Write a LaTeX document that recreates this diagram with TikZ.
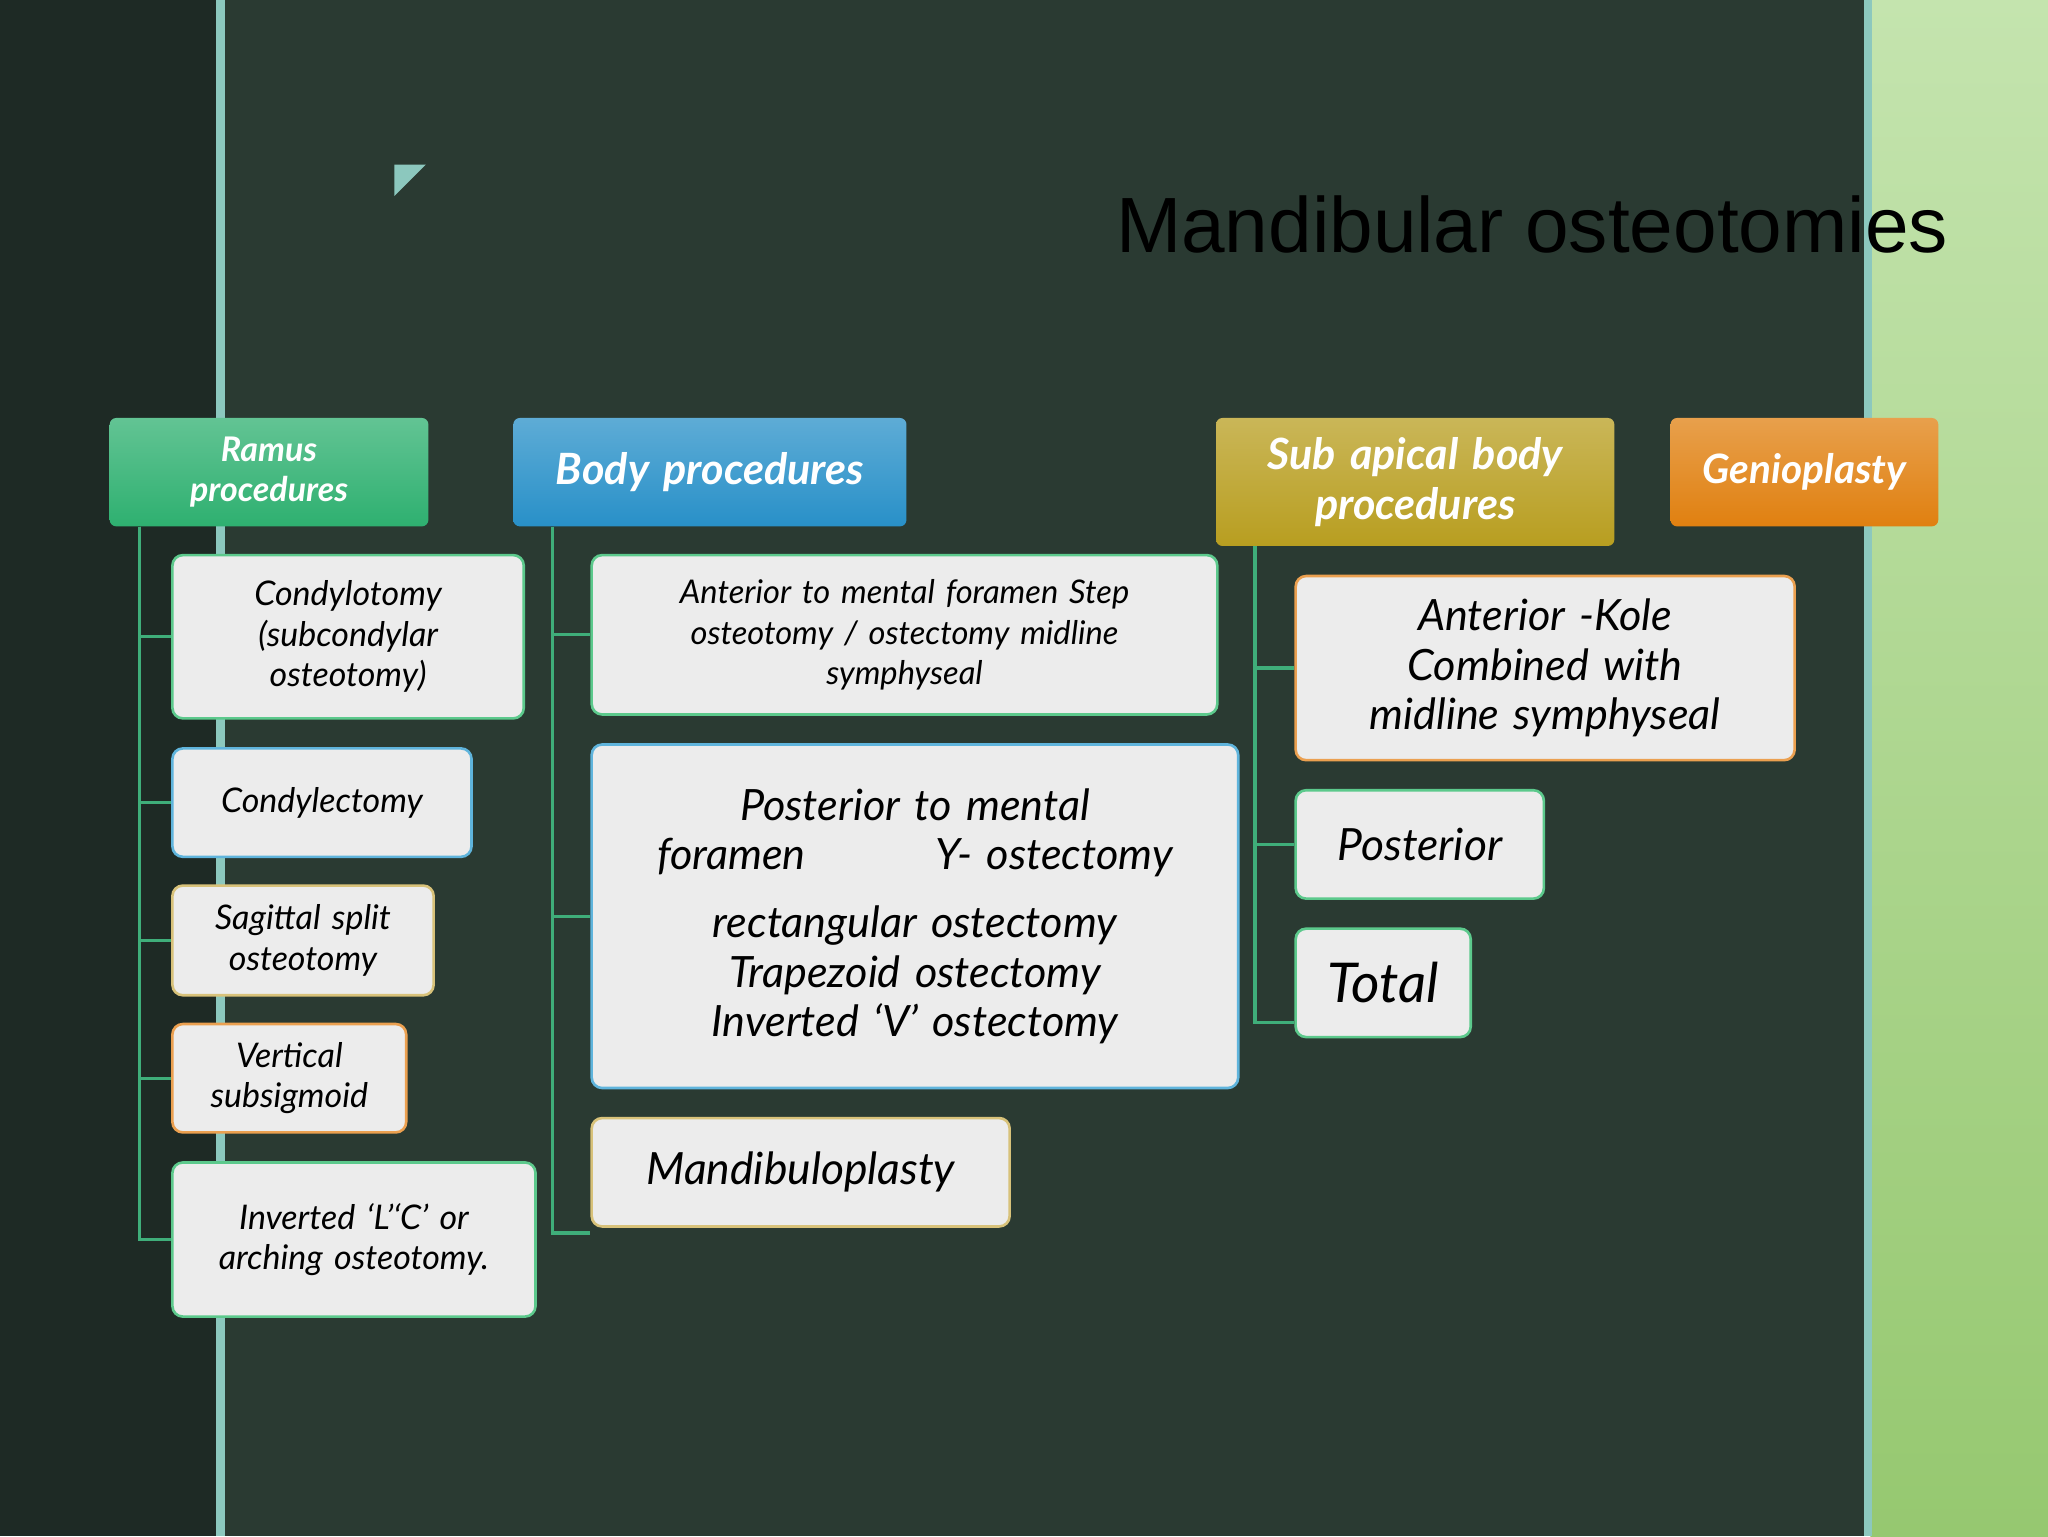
\documentclass[tikz,border=0pt]{standalone}
\usepackage{fontspec}
\setmainfont{Lato}
\newfontfamily\titlefont{Liberation Sans}
\usetikzlibrary{calc}
\definecolor{bgmain}{HTML}{2A3A32}
\definecolor{bgleft}{HTML}{1E2A25}
\definecolor{strip}{HTML}{8CC8BE}
\definecolor{conn}{HTML}{3FAE7A}
\definecolor{boxfill}{HTML}{ECECEC}
\definecolor{bGreen}{HTML}{5CC98C}
\definecolor{bBlue}{HTML}{5FB4DC}
\definecolor{bTan}{HTML}{D8C27A}
\definecolor{bOrange}{HTML}{EBA050}
\definecolor{rgA}{HTML}{C4E4AE}
\definecolor{rgB}{HTML}{96C870}
\tikzset{
  conline/.style={draw=conn,line width=2.5pt},
  hdr/.style={rounded corners=5pt,text=white,align=center,inner sep=0pt},
  lbox/.style={fill=boxfill,rounded corners=8pt,line width=2pt,align=center,inner sep=0pt}
}
\newcommand{\bx}[9]{%
  \node[lbox,draw=#6,minimum width={#4-#2},minimum height={#5-#3},text width={#4-#2-16},
    font={\itshape\fontsize{#8}{#9}\selectfont\spaceskip=0.42em plus 0.1em}] (#1) at ({(#2+#4)/2},{(#3+#5)/2}) {#7};}
\newcommand{\hd}[9]{%
  \node[hdr,top color=#6!75!white,bottom color=#6,minimum width={#4-#2},minimum height={#5-#3},text width={#4-#2-10},
    font={\bfseries\itshape\fontsize{#8}{#9}\selectfont}] (#1) at ({(#2+#4)/2},{(#3+#5)/2}) {#7};}
\begin{document}
\begin{tikzpicture}[x=1pt,y=-1pt]
\useasboundingbox (0,0) rectangle (1568,1176);
\fill[bgmain] (0,0) rectangle (1568,1176);
\fill[bgleft] (0,0) rectangle (165,1176);
\fill[strip] (165,0) rectangle (172,1176);
\shade[top color=rgA, bottom color=rgB] (1432,0) rectangle (1568,1176);
\fill[strip] (1427,0) rectangle (1433,1176);
\fill[strip] (302,126) -- (326,126) -- (302,150) -- cycle;
\node[anchor=base east,font=\titlefont\fontsize{60}{62}\selectfont] (title) at (1495,193) {Mandibular osteotomies};
% headers
\definecolor{hG}{HTML}{2EB070}\definecolor{hB}{HTML}{2890C8}
\definecolor{hY}{HTML}{B89E20}\definecolor{hO}{HTML}{E08010}
\hd{ramus}{84}{320}{328}{403}{hG}{Ramus\\procedures}{26}{31}
\hd{body}{393}{320}{694}{403}{hB}{Body procedures}{33}{38}
\hd{sub}{931}{320}{1236}{418}{hY}{Sub apical body\\procedures}{33}{38}
\hd{genio}{1279}{320}{1484}{403}{hO}{Genioplasty}{31}{36}
% ramus boxes
\bx{r1}{132}{425}{401}{550}{bGreen}{Condylotomy\\(subcondylar\\osteotomy)}{26}{31}
\bx{r2}{132}{573}{361}{656}{bBlue}{Condylectomy}{26}{31}
\bx{r3}{132}{678}{332}{762}{bTan}{Sagittal split\\osteotomy}{26}{31}
\bx{r4}{132}{784}{311}{867}{bOrange}{Vertical\\subsigmoid}{26}{31}
\bx{r5}{132}{890}{410}{1008}{bGreen}{Inverted `L'`C' or\\arching osteotomy.}{26}{31}
% body boxes
\bx{b1}{453}{425}{932}{547}{bGreen}{Anterior to mental foramen Step\\osteotomy / ostectomy midline\\symphyseal}{25}{31}
\bx{b2}{453}{570}{948}{833}{bBlue}{Posterior to mental\\foramen\quad\quad\quad Y- ostectomy\\[14pt]rectangular ostectomy\\Trapezoid ostectomy\\Inverted `V' ostectomy}{33}{38}
\bx{b3}{453}{856}{773}{939}{bTan}{Mandibuloplasty}{34}{40}
% sub apical boxes
\bx{s1}{992}{441}{1374}{582}{bOrange}{Anterior -Kole\\Combined with\\midline symphyseal}{33}{38}
\bx{s2}{992}{605}{1182}{688}{bGreen}{Posterior}{34}{40}
\bx{s3}{992}{711}{1126}{794}{bGreen}{Total}{42}{48}
% connectors
\foreach \n in {r1,r2,r3,r4,r5}{\draw[conline] ([xshift=23pt]ramus.south west) |- (\n.west);}
\foreach \n in {b1,b2}{\draw[conline] ([xshift=30pt]body.south west) |- (\n.west);}
\draw[conline] ([xshift=30pt]body.south west) |- ([yshift=-4pt]b3.south west);
\foreach \n in {s1,s2}{\draw[conline] ([xshift=30pt]sub.south west) |- (\n.west);}
\draw[conline] ([xshift=30pt]sub.south west) |- ([yshift=12pt]s3.south west);
\end{tikzpicture}
\end{document}
